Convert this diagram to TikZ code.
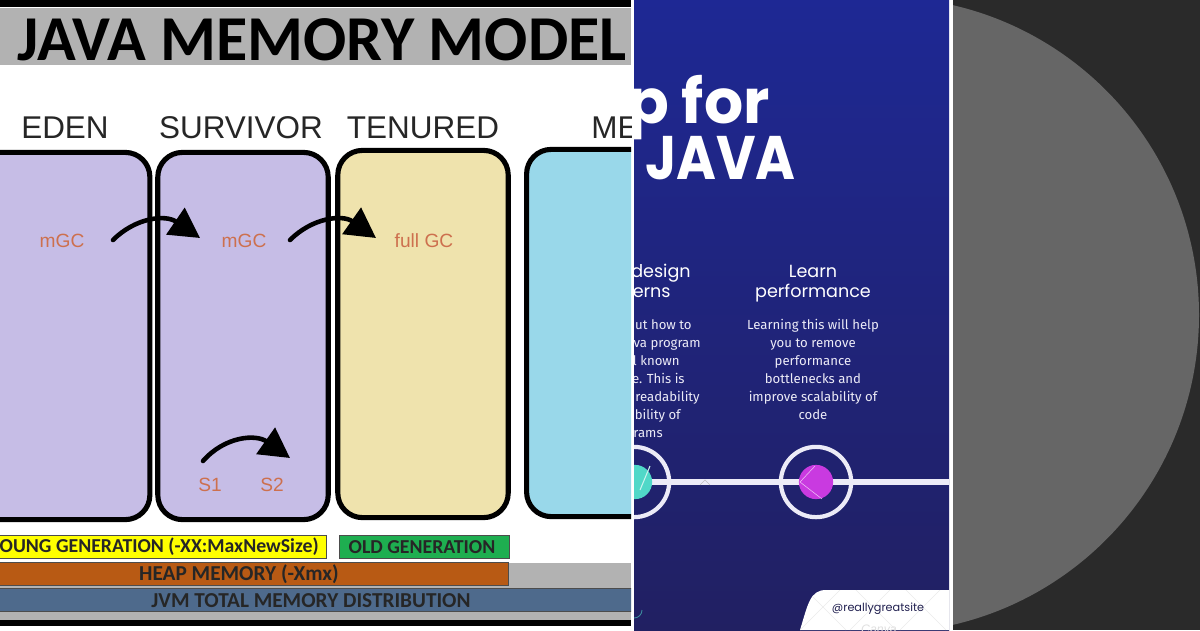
\documentclass[tikz,border=0pt]{standalone}
\usepackage{fontspec}
\setmainfont{Liberation Sans}
\newfontfamily\titlefont{Carlito}
\newfontfamily\headfont{Poppins}
\newfontfamily\bodyfont{Fira Sans}
\usepackage{tikz}
\usetikzlibrary{
    arrows.meta,           % Modern arrow tips
    positioning            % Relative positioning
}
\definecolor{EdenLilac}{RGB}{198, 189, 230}
\definecolor{TenuredSand}{RGB}{239, 227, 173}
\definecolor{MetaBlue}{RGB}{153, 216, 234}
\definecolor{GcOrange}{RGB}{205, 112, 78}
\definecolor{BarGray}{RGB}{178, 178, 178}
\definecolor{YoungYellow}{RGB}{255, 255, 0}
\definecolor{OldGreen}{RGB}{30, 174, 80}
\definecolor{HeapOrange}{RGB}{184, 90, 20}
\definecolor{JvmBlue}{RGB}{78, 106, 140}
\definecolor{PanelTop}{RGB}{30, 40, 148}
\definecolor{PanelBottom}{RGB}{33, 32, 98}
\definecolor{LineWhite}{RGB}{236, 235, 247}
\definecolor{DotPurple}{RGB}{201, 58, 224}
\definecolor{DotTeal}{RGB}{80, 216, 200}
\definecolor{SiteDark}{RGB}{33, 32, 80}
\definecolor{SlateDark}{RGB}{42, 42, 42}
\definecolor{SlateDisc}{RGB}{102, 102, 102}
\tikzset{
    memorybox/.style={draw=black, line width=2.9pt, rounded corners=14pt, minimum height=209pt},
    zonelabel/.style={font=\fontsize{17.9}{18}\selectfont, text=black!85},
    gclabel/.style={font=\fontsize{10.9}{12}\selectfont, text=GcOrange},
    membar/.style={draw=black!70, line width=0.5pt, minimum height=13pt, inner sep=0pt},
    barlabel/.style={font=\titlefont\bfseries\fontsize{12.1}{12.4}\selectfont, text=black!85},
    narrowbar/.style={font=\titlefont\bfseries\fontsize{11.25}{12.4}\selectfont, text=black!85},
    gcarrow/.style={line width=2.6pt, line cap=round, -{Triangle[length=17pt, width=18pt]}},
    bodyline/.style={font=\bodyfont\fontsize{7.5}{10}\selectfont, text=LineWhite, inner sep=0pt},
    subhead/.style={font=\headfont\fontsize{10}{11}\selectfont, text=white, inner sep=0pt},
    bighead/.style={font=\headfont\bfseries\fontsize{35}{35}\selectfont, text=white, inner sep=0pt},
    ring/.style={draw=LineWhite, line width=2.4pt, fill=none, circle, minimum size=40pt, inner sep=0pt},
    dot/.style={circle, minimum size=19.5pt, inner sep=0pt}
}
\begin{document}
\begin{tikzpicture}[x=0.02cm, y=-0.02cm]
    \useasboundingbox (0, 0) rectangle (1200, 630);
    \fill[white] (0, 0) rectangle (953, 630);

    % Memory model panel
    \begin{scope}
        \clip (0, 0) rectangle (631, 630);
        \fill[black] (0, 0) rectangle (631, 7);
        \fill[BarGray] (0, 8) rectangle (631, 65);
        \node[font=\titlefont\bfseries\fontsize{36.4}{36.5}\selectfont, text=black, inner sep=0pt] (title) at (322, 40) {JAVA MEMORY MODEL};

        \node[memorybox, fill=EdenLilac, minimum width=108pt] (eden) at (55, 336) {};
        \node[memorybox, fill=EdenLilac, minimum width=97pt] (survivor) at (243, 336) {};
        \node[memorybox, fill=TenuredSand, minimum width=97pt] (tenured) at (423, 334) {};
        \node[memorybox, fill=MetaBlue, minimum width=120pt] (meta) at (632, 333) {};

        \node[zonelabel] (edenName) at (65, 128) {EDEN};
        \node[zonelabel] (survivorName) at (241, 128) {SURVIVOR};
        \node[zonelabel] (tenuredName) at (423, 128) {TENURED};
        \node[zonelabel, anchor=west, inner sep=0pt] (metaName) at (591, 128) {ME};

        \node[gclabel] (edenGc) at (62, 241) {mGC};
        \node[gclabel] (survivorGc) at (244, 241) {mGC};
        \node[gclabel] (tenuredGc) at (424, 241) {full GC};
        \node[gclabel] (sOne) at (210, 485) {S1};
        \node[gclabel] (sTwo) at (272, 485) {S2};

        % Promotion arrows
        \coordinate (edenOut) at (113, 240);
        \coordinate (survivorIn) at (200, 238);
        \coordinate (survivorOut) at (290, 240);
        \coordinate (tenuredIn) at (376, 238);
        \coordinate (sOneOut) at (203, 461);
        \coordinate (sTwoIn) at (290, 458);
        \draw[gcarrow] (edenOut) .. controls (135, 218) and (165, 214) .. (survivorIn);
        \draw[gcarrow] (survivorOut) .. controls (312, 218) and (342, 214) .. (tenuredIn);
        \draw[gcarrow] (sOneOut) .. controls (225, 436) and (256, 434) .. (sTwoIn);

        % Size bars
        \fill[BarGray] (0, 563) rectangle (631, 620);
        \node[membar, fill=YoungYellow, minimum width=201pt] (young) at (150, 547) {};
        \node[membar, fill=OldGreen, minimum width=97pt] (old) at (424.5, 547) {};
        \node[membar, fill=HeapOrange, minimum width=300pt] (heap) at (245, 574) {};
        \node[membar, fill=JvmBlue, minimum width=370pt] (jvm) at (315, 600) {};
        \fill[black] (0, 620) rectangle (631, 626);
        \node[narrowbar, anchor=east, inner sep=0pt] (youngName) at (319, 547) {OUNG GENERATION (-XX:MaxNewSize)};
        \node[narrowbar] (oldName) at (422, 547) {OLD GENERATION};
        \node[barlabel] (heapName) at (239, 574) {HEAP MEMORY (-Xmx)};
        \node[barlabel] (jvmName) at (311, 601) {JVM TOTAL MEMORY DISTRIBUTION};
    \end{scope}

    % Roadmap panel
    \begin{scope}
        \clip (634, 0) rectangle (949, 630);
        \fill[top color=PanelTop, bottom color=PanelBottom] (634, 0) rectangle (949, 630);

        \node[bighead, anchor=base east] (headOne) at (770, 123) {p for};
        \node[bighead, anchor=base east] (headTwo) at (796, 179) {\scalebox{0.88}[1]{JAVA}};

        \node[subhead, anchor=base east] (designOne) at (691, 277) {design};
        \node[subhead, anchor=base east] (designTwo) at (671, 297) {erns};
        \node[subhead, anchor=base] (learnOne) at (813, 277) {Learn};
        \node[subhead, anchor=base] (learnTwo) at (813, 297) {performance};

        \node[bodyline, anchor=base east] (leftA) at (692, 329) {ut how to};
        \node[bodyline, anchor=base east] (leftB) at (701, 347) {va program};
        \node[bodyline, anchor=base east] (leftC) at (680, 365) {l known};
        \node[bodyline, anchor=base east] (leftD) at (685, 383) {e. This is};
        \node[bodyline, anchor=base east] (leftE) at (700, 401) {readability};
        \node[bodyline, anchor=base east] (leftF) at (681, 419) {ibility of};
        \node[bodyline, anchor=base east] (leftG) at (663, 437) {rams};

        \node[bodyline, anchor=base] (rightA) at (813, 329) {Learning this will help};
        \node[bodyline, anchor=base] (rightB) at (813, 347) {you to remove};
        \node[bodyline, anchor=base] (rightC) at (813, 365) {performance};
        \node[bodyline, anchor=base] (rightD) at (813, 383) {bottlenecks and};
        \node[bodyline, anchor=base] (rightE) at (813, 401) {improve scalability of};
        \node[bodyline, anchor=base] (rightF) at (813, 419) {code};

        % Timeline
        \coordinate (hubOne) at (634, 482);
        \coordinate (hubTwo) at (816, 482);
        \coordinate (lineEnd) at (949, 482);
        \draw[LineWhite, line width=3pt] (hubOne) -- (hubTwo) -- (lineEnd);
        \node[ring] (ringOne) at (hubOne) {};
        \node[ring] (ringTwo) at (hubTwo) {};
        \node[dot, fill=DotTeal] (dotOne) at (635, 482) {};
        \node[dot, fill=DotPurple] (dotTwo) at (816, 482) {};
        \draw[white!70!DotPurple, line width=0.3pt] (815, 466) -- (800, 482) -- (822, 499);
        \draw[white!70!DotTeal, line width=0.6pt] (650, 466) -- (640, 490);
        \draw[black!25, line width=0.3pt] (700, 485) -- (705, 480) -- (710, 485);

        % Handle tab
        \fill[white] (800, 630) .. controls (808, 604) and (810, 590) .. (826, 590) -- (949, 590) -- (949, 630) -- cycle;
        \begin{scope}
            \clip (800, 630) .. controls (808, 604) and (810, 590) .. (826, 590) -- (949, 590) -- (949, 630) -- cycle;
            \foreach \xpos in {800, 850, 900} {
                \draw[black!8, line width=0.3pt] (\xpos, 630) -- (\xpos + 42, 588);
                \draw[black!8, line width=0.3pt] (\xpos + 4, 588) -- (\xpos + 46, 630);
            }
        \end{scope}
        \node[font=\headfont\fontsize{6.4}{8}\selectfont, text=SiteDark] (site) at (878, 609) {@reallygreatsite};
        \node[font=\itshape\fontsize{7}{8}\selectfont, text=black!12] (mark) at (879, 629) {Canva};
        \draw[DotTeal!60!PanelBottom, line width=0.5pt] (634, 618) arc[start angle=90, end angle=0, radius=8];
    \end{scope}

    % Dark backdrop with disc
    \fill[SlateDark] (953, 0) rectangle (1200, 630);
    \begin{scope}
        \clip (953, 0) rectangle (1200, 630);
        \fill[SlateDisc] (881, 315) circle[radius=318];
    \end{scope}
\end{tikzpicture}
\end{document}
